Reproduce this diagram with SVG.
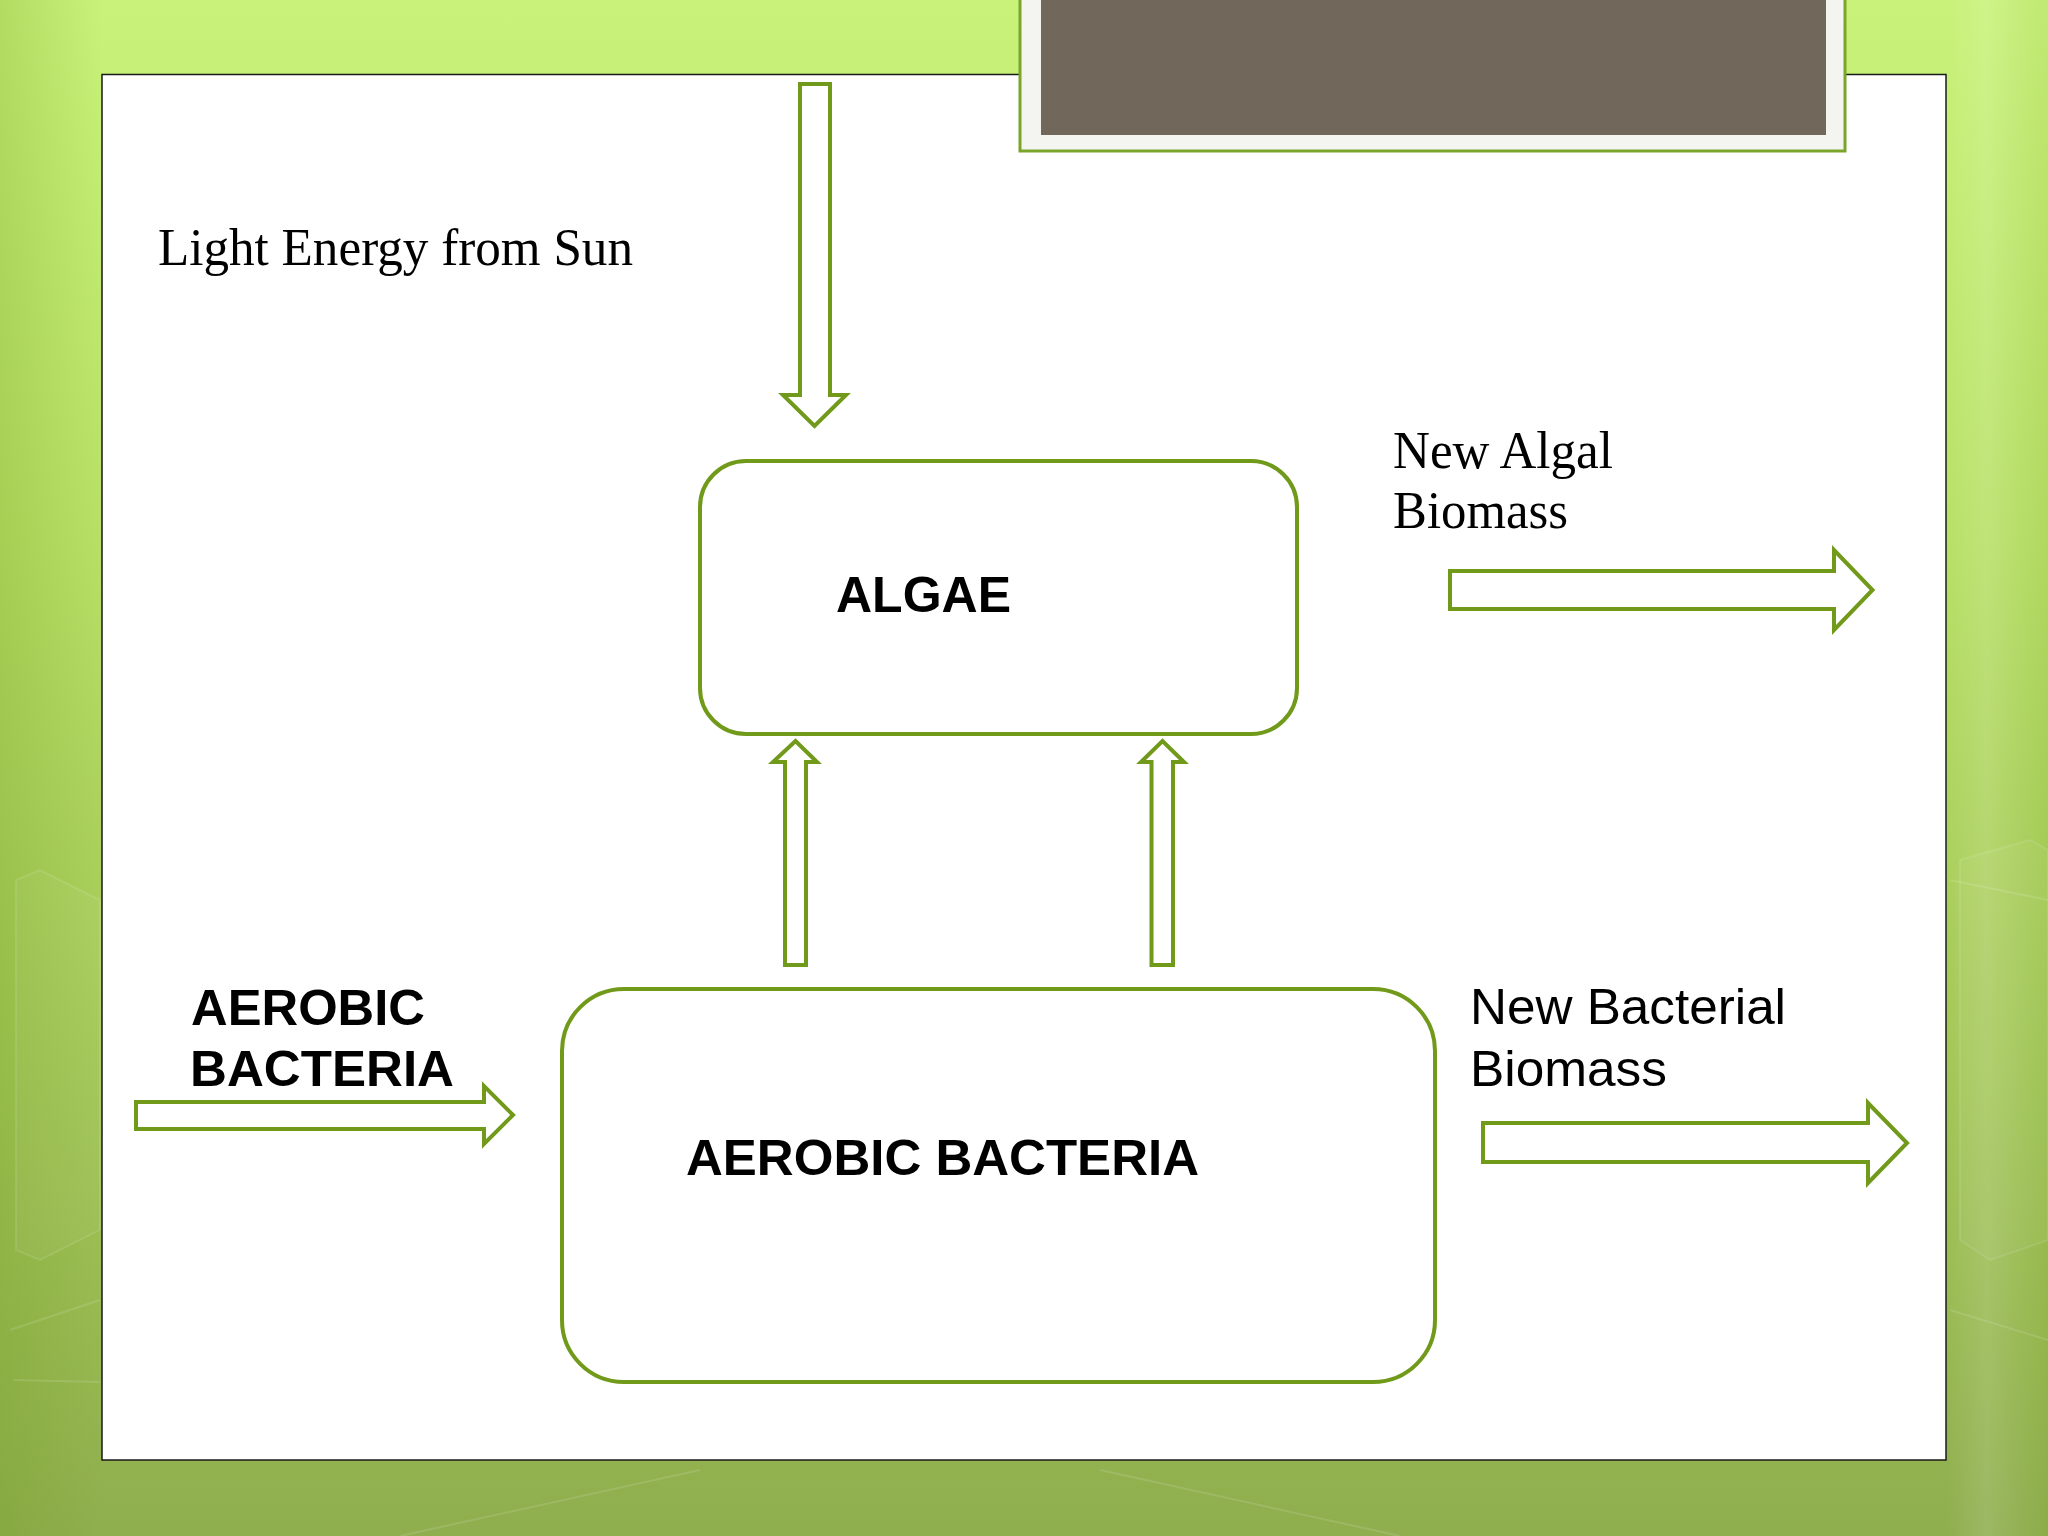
<svg xmlns="http://www.w3.org/2000/svg" width="2048" height="1536" viewBox="0 0 2048 1536">
  <defs>
    <linearGradient id="bg" x1="0" y1="0" x2="0" y2="1">
      <stop offset="0" stop-color="#c8f279"/>
      <stop offset="0.35" stop-color="#b8e066"/>
      <stop offset="0.7" stop-color="#a2c656"/>
      <stop offset="1" stop-color="#8fae4e"/>
    </linearGradient>
    <linearGradient id="side" x1="0" y1="0" x2="1" y2="0">
      <stop offset="0" stop-color="#6f9a1e" stop-opacity="0.25"/>
      <stop offset="0.05" stop-color="#6f9a1e" stop-opacity="0"/>
      <stop offset="0.95" stop-color="#ffffff" stop-opacity="0"/>
      <stop offset="0.97" stop-color="#ffffff" stop-opacity="0.12"/>
      <stop offset="1" stop-color="#6f9a1e" stop-opacity="0.1"/>
    </linearGradient>
  </defs>
  <style>
    .shape { fill: #ffffff; stroke: #71991a; stroke-width: 4; stroke-linejoin: miter; }
    .serif { font-family: "Liberation Serif", "Times New Roman", serif; fill: #000000; }
    .sans { font-family: "Liberation Sans", Arial, sans-serif; fill: #000000; }
    .bold { font-weight: bold; }
    .deco { fill: #ffffff; fill-opacity: 0.04; stroke: #ffffff; stroke-opacity: 0.1; stroke-width: 2; }
    .decoline { stroke: #ffffff; stroke-opacity: 0.12; stroke-width: 2; }
  </style>

  <!-- background -->
  <rect x="0" y="0" width="2048" height="1536" fill="url(#bg)"/>
  <rect x="0" y="0" width="2048" height="1536" fill="url(#side)"/>
  <g id="background-deco">
    <polygon class="deco" points="16,880 40,870 100,900 100,1230 40,1260 16,1250"/>
    <polygon class="deco" points="1960,860 2030,840 2048,850 2048,1240 1990,1260 1960,1240"/>
    <line class="decoline" x1="10" y1="1330" x2="100" y2="1300"/>
    <line class="decoline" x1="14" y1="1380" x2="100" y2="1382"/>
    <line class="decoline" x1="1950" y1="880" x2="2048" y2="900"/>
    <line class="decoline" x1="1950" y1="1310" x2="2048" y2="1340"/>
    <line class="decoline" x1="400" y1="1536" x2="700" y2="1470"/>
    <line class="decoline" x1="1100" y1="1470" x2="1400" y2="1536"/>
  </g>

  <!-- white panel -->
  <rect id="panel" x="102" y="74.5" width="1844" height="1385.5" fill="#ffffff" stroke="#1a1a1a" stroke-width="1.5"/>

  <!-- title frame at top -->
  <g id="title-frame">
    <rect x="1020" y="-10" width="825" height="161" fill="#f4f5f1" stroke="#7aa52a" stroke-width="3"/>
    <rect x="1041" y="-10" width="785" height="145" fill="#72675b"/>
  </g>

  <!-- connectors -->
  <g id="connectors">
    <polygon id="arrow-light" class="shape" points="800,84 830,84 830,395 846,395 814.5,426 783,395 800,395"/>
    <polygon id="arrow-up-left" class="shape" points="785,965 785,762 773,762 795.5,741 817,762 806,762 806,965"/>
    <polygon id="arrow-up-right" class="shape" points="1151.5,965 1151.5,762 1141,762 1162.5,741 1184,762 1173,762 1173,965"/>
    <polygon id="arrow-algal" class="shape" points="1450,571 1834,571 1834,550 1872.5,590 1834,630 1834,609 1450,609"/>
    <polygon id="arrow-aerobic-in" class="shape" points="136,1102 484,1102 484,1086 513,1115 484,1144 484,1129 136,1129"/>
    <polygon id="arrow-bacterial" class="shape" points="1483,1123 1868,1123 1868,1103 1907,1143 1868,1183 1868,1162 1483,1162"/>
  </g>

  <!-- nodes -->
  <g id="node-algae">
    <rect class="shape" x="700" y="461" width="597" height="273" rx="46" ry="46"/>
    <text class="sans bold" x="836" y="612" font-size="50">ALGAE</text>
  </g>

  <g id="node-aerobic-bacteria">
    <rect class="shape" x="562" y="989" width="873" height="393" rx="62" ry="62"/>
    <text class="sans bold" x="686" y="1175" font-size="50" textLength="513" lengthAdjust="spacingAndGlyphs">AEROBIC BACTERIA</text>
  </g>

  <g id="label-light">
    <text class="serif" x="158" y="265" font-size="53" textLength="475" lengthAdjust="spacingAndGlyphs">Light Energy from Sun</text>
  </g>

  <g id="label-algal-biomass">
    <text class="serif" x="1393" y="468" font-size="52" textLength="220" lengthAdjust="spacingAndGlyphs">New Algal</text>
    <text class="serif" x="1393" y="528" font-size="52" textLength="175" lengthAdjust="spacingAndGlyphs">Biomass</text>
  </g>

  <g id="label-aerobic-in">
    <text class="sans bold" x="191" y="1025" font-size="50" textLength="234" lengthAdjust="spacingAndGlyphs">AEROBIC</text>
    <text class="sans bold" x="190" y="1086" font-size="50" textLength="264" lengthAdjust="spacingAndGlyphs">BACTERIA</text>
  </g>

  <g id="label-bacterial-biomass">
    <text class="sans" x="1470" y="1024" font-size="50" textLength="316" lengthAdjust="spacingAndGlyphs">New Bacterial</text>
    <text class="sans" x="1470" y="1086" font-size="50" textLength="197" lengthAdjust="spacingAndGlyphs">Biomass</text>
  </g>
</svg>
